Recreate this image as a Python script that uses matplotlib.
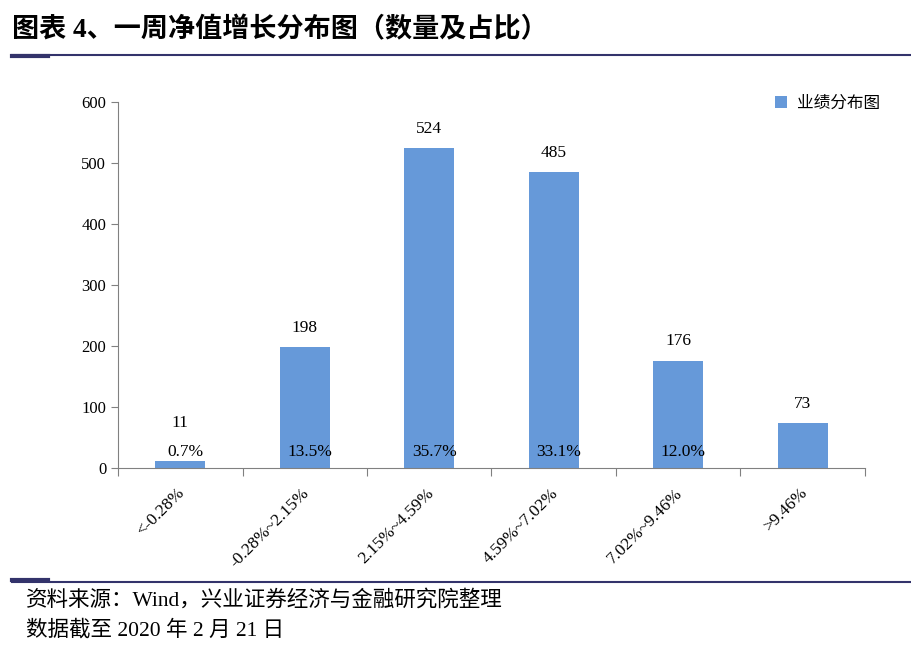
import numpy as np
import matplotlib.pyplot as plt
from matplotlib.lines import Line2D

plt.rcParams['font.family'] = ['Liberation Serif', 'Noto Sans CJK SC']

# 数据
categories = ['<-0.28%', '-0.28%~2.15%', '2.15%~4.59%', '4.59%~7.02%', '7.02%~9.46%', '>9.46%']
counts = [11, 198, 524, 485, 176, 73]
shares = ['0.7%', '13.5%', '35.7%', '33.1%', '12.0%', '']
series_name = '业绩分布图'
title = '图表 4、一周净值增长分布图（数量及占比）'
source_lines = ['资料来源：Wind，兴业证券经济与金融研究院整理', '数据截至 2020 年 2 月 21 日']

W, H = 912, 645
fig = plt.figure(figsize=(W / 100, H / 100), dpi=100)
bar_color = '#6699D9'
navy = '#33336B'
mixed = ['Liberation Serif', 'Noto Sans CJK SC']

# 标题和分隔线
fig.text(12 / W, 1 - 30 / H, title, fontsize=19.5, fontweight='bold',
         family=mixed, va='center', ha='left')
fig.add_artist(Line2D([12 / W, 1], [1 - 55 / H] * 2, color=navy, lw=1.5))
fig.add_artist(Line2D([12 / W, 48 / W], [1 - 56 / H] * 2, color=navy, lw=3))
fig.add_artist(Line2D([12 / W, 1], [1 - 582 / H] * 2, color=navy, lw=1.5))
fig.add_artist(Line2D([12 / W, 48 / W], [1 - 580 / H] * 2, color=navy, lw=3))

for i, line in enumerate(source_lines):
    fig.text(26 / W, 1 - (600 + i * 30) / H, line, fontsize=15.5,
             family=mixed, va='center', ha='left')

# 主图
ax = fig.add_axes([118 / W, 1 - 468 / H, (865 - 118) / W, (468 - 102) / H])
x = np.arange(len(categories))
ax.bar(x, counts, width=0.4, color=bar_color, label=series_name)

for xi, v, s in zip(x, counts, shares):
    ax.text(xi, max(v + 32, 74), str(v), ha='center', va='center', fontsize=12.5)
    if s:
        ax.text(xi + 0.04, 27, s, ha='center', va='center', fontsize=12.5)

ax.set_xlim(-0.5, len(categories) - 0.5)
ax.set_ylim(0, 600)
ax.set_yticks(range(0, 601, 100))
ax.set_xticks(np.arange(-0.5, len(categories), 1.0))
ax.set_xticklabels([])
ax.tick_params(axis='x', length=6, color='#808080')
ax.tick_params(axis='y', length=5, color='#808080', labelsize=12)
for xi, lab in zip(x, categories):
    ax.text(xi - 0.03, -28, lab, rotation=45, ha='right', va='top',
            fontsize=12.5, rotation_mode='anchor', transform=ax.transData)

for s in ['top', 'right']:
    ax.spines[s].set_visible(False)
for s in ['left', 'bottom']:
    ax.spines[s].set_color('#808080')

ax.legend(loc='upper right', bbox_to_anchor=(1.04, 1.06), frameon=False,
          handlelength=0.7, handleheight=0.7, handletextpad=0.6,
          prop={'family': ['Noto Sans CJK SC'], 'size': 12})

fig.savefig('out.png', dpi=100)
